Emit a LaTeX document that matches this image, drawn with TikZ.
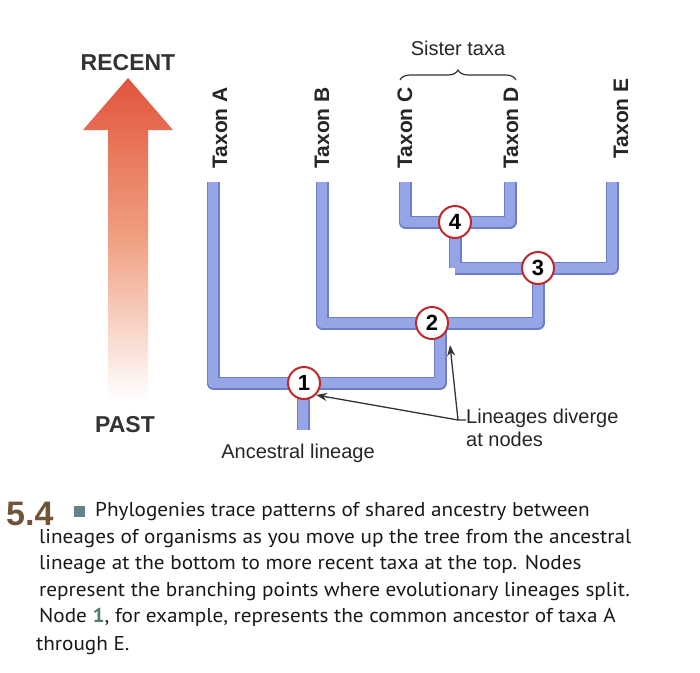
\documentclass[tikz,border=0pt]{standalone}
\usepackage{fontspec}
\setmainfont{Liberation Sans}
\newfontfamily\capfont{PT Sans}
\usetikzlibrary{decorations.pathreplacing,arrows.meta}
\definecolor{brout}{RGB}{110,125,200}
\definecolor{brin}{RGB}{150,165,230}
\definecolor{ndred}{RGB}{190,40,40}
\definecolor{arrtop}{RGB}{225,85,60}
\definecolor{arrmid}{RGB}{240,160,130}
\definecolor{numcol}{RGB}{110,85,55}
\definecolor{bulcol}{RGB}{100,130,140}
\definecolor{onecol}{RGB}{75,125,115}
\begin{document}
\begin{tikzpicture}[x=1pt,y=-1pt,
  br/.style={line width=13pt,draw=brout,line join=round},
  bri/.style={line width=9.5pt,draw=brin,line join=round},
  nd/.style={circle,draw=ndred,line width=2pt,fill=white,minimum size=32pt,inner sep=0pt,font=\bfseries\fontsize{22}{22}\selectfont},
  tx/.style={rotate=90,anchor=west,font=\bfseries\fontsize{21}{21}\selectfont,text=black!85},
  lab/.style={font=\fontsize{20}{23}\selectfont,text=black!85},
  captxt/.style={font=\capfont\fontsize{20}{22}\selectfont,anchor=base west,text=black!90,inner sep=0pt,xscale=1.06},
  ar/.style={-{Stealth[length=11pt,width=8pt]},line width=1.3pt,black!80}]
\useasboundingbox (0,0) rectangle (700,672);
\fill[white] (0,0) rectangle (700,672);
% arrow
\shade[top color=arrtop,bottom color=white,middle color=arrmid]
 (108,130) -- (83,130) -- (128,78) -- (173,130) -- (148,130) -- (148,400) -- (108,400) -- cycle;
\node[font=\bfseries\fontsize{23}{23}\selectfont,text=black!80] (rec) at (128,63) {RECENT};
\node[font=\bfseries\fontsize{23}{23}\selectfont,text=black!80] (past) at (125,425) {PAST};
% tree
\coordinate (tA) at (213,182); \coordinate (tB) at (322,182); \coordinate (tC) at (405,182);
\coordinate (tD) at (510,182); \coordinate (tE) at (612,182); \coordinate (root) at (303,430);
\foreach \s in {br,bri}{
 \draw[\s] (tA) -- (213,383) -- (440,383) -- (440,323);
 \draw[\s] (tB) -- (322,323) -- (538,323) -- (538,268);
 \draw[\s] (455,268) -- (612,268) -- (tE);
 \draw[\s] (455,268) -- (455,222);
 \draw[\s] (tC) -- (405,222) -- (510,222) -- (tD);
 \draw[\s] (303,383) -- (root);
}
\node[nd] (n1) at (304,383) {1};
\node[nd] (n2) at (432,323) {2};
\node[nd] (n3) at (538,268) {3};
\node[nd] (n4) at (455,222) {4};
\node[tx] (lA) at (220,172) {Taxon A};
\node[tx] (lB) at (322,172) {Taxon B};
\node[tx] (lC) at (405,172) {Taxon C};
\node[tx] (lD) at (511,172) {Taxon D};
\node[tx] (lE) at (621,162) {Taxon E};
\draw[decorate,decoration={brace,amplitude=10pt},line width=1.2pt,black!80] (400,80) -- (516,80);
\node[lab] (sis) at (458,48) {Sister taxa};
\node[lab] (anc) at (298,453) {Ancestral lineage};
\node[lab,align=left,anchor=north west,inner sep=0pt] (lin) at (466,409) {Lineages diverge\\at nodes};
\coordinate (j) at (458,420);
\draw[ar] (lin.west |- j) -- (j) -- (n1.south east);
\draw[ar] (j) -- (450,345);
% caption
\node[anchor=base west,inner sep=0pt,font=\bfseries\fontsize{34}{34}\selectfont,text=numcol] (num) at (6,525) {5.4};
\fill[bulcol] (74,506) rectangle (85,517);
\node[captxt] (c1) at (95,516) {Phylogenies trace patterns of shared ancestry between};
\node[captxt] (c2) at (39,543) {lineages of organisms as you move up the tree from the ancestral};
\node[captxt] (c3) at (39,569) {lineage at the bottom to more recent taxa at the top. Nodes};
\node[captxt] (c4) at (39,596) {represent the branching points where evolutionary lineages split.};
\node[captxt] (c5) at (39,622) {Node \textcolor{onecol}{\textbf{1}}, for example, represents the common ancestor of taxa A};
\node[captxt] (c6) at (36,650) {through E.};
\end{tikzpicture}
\end{document}
